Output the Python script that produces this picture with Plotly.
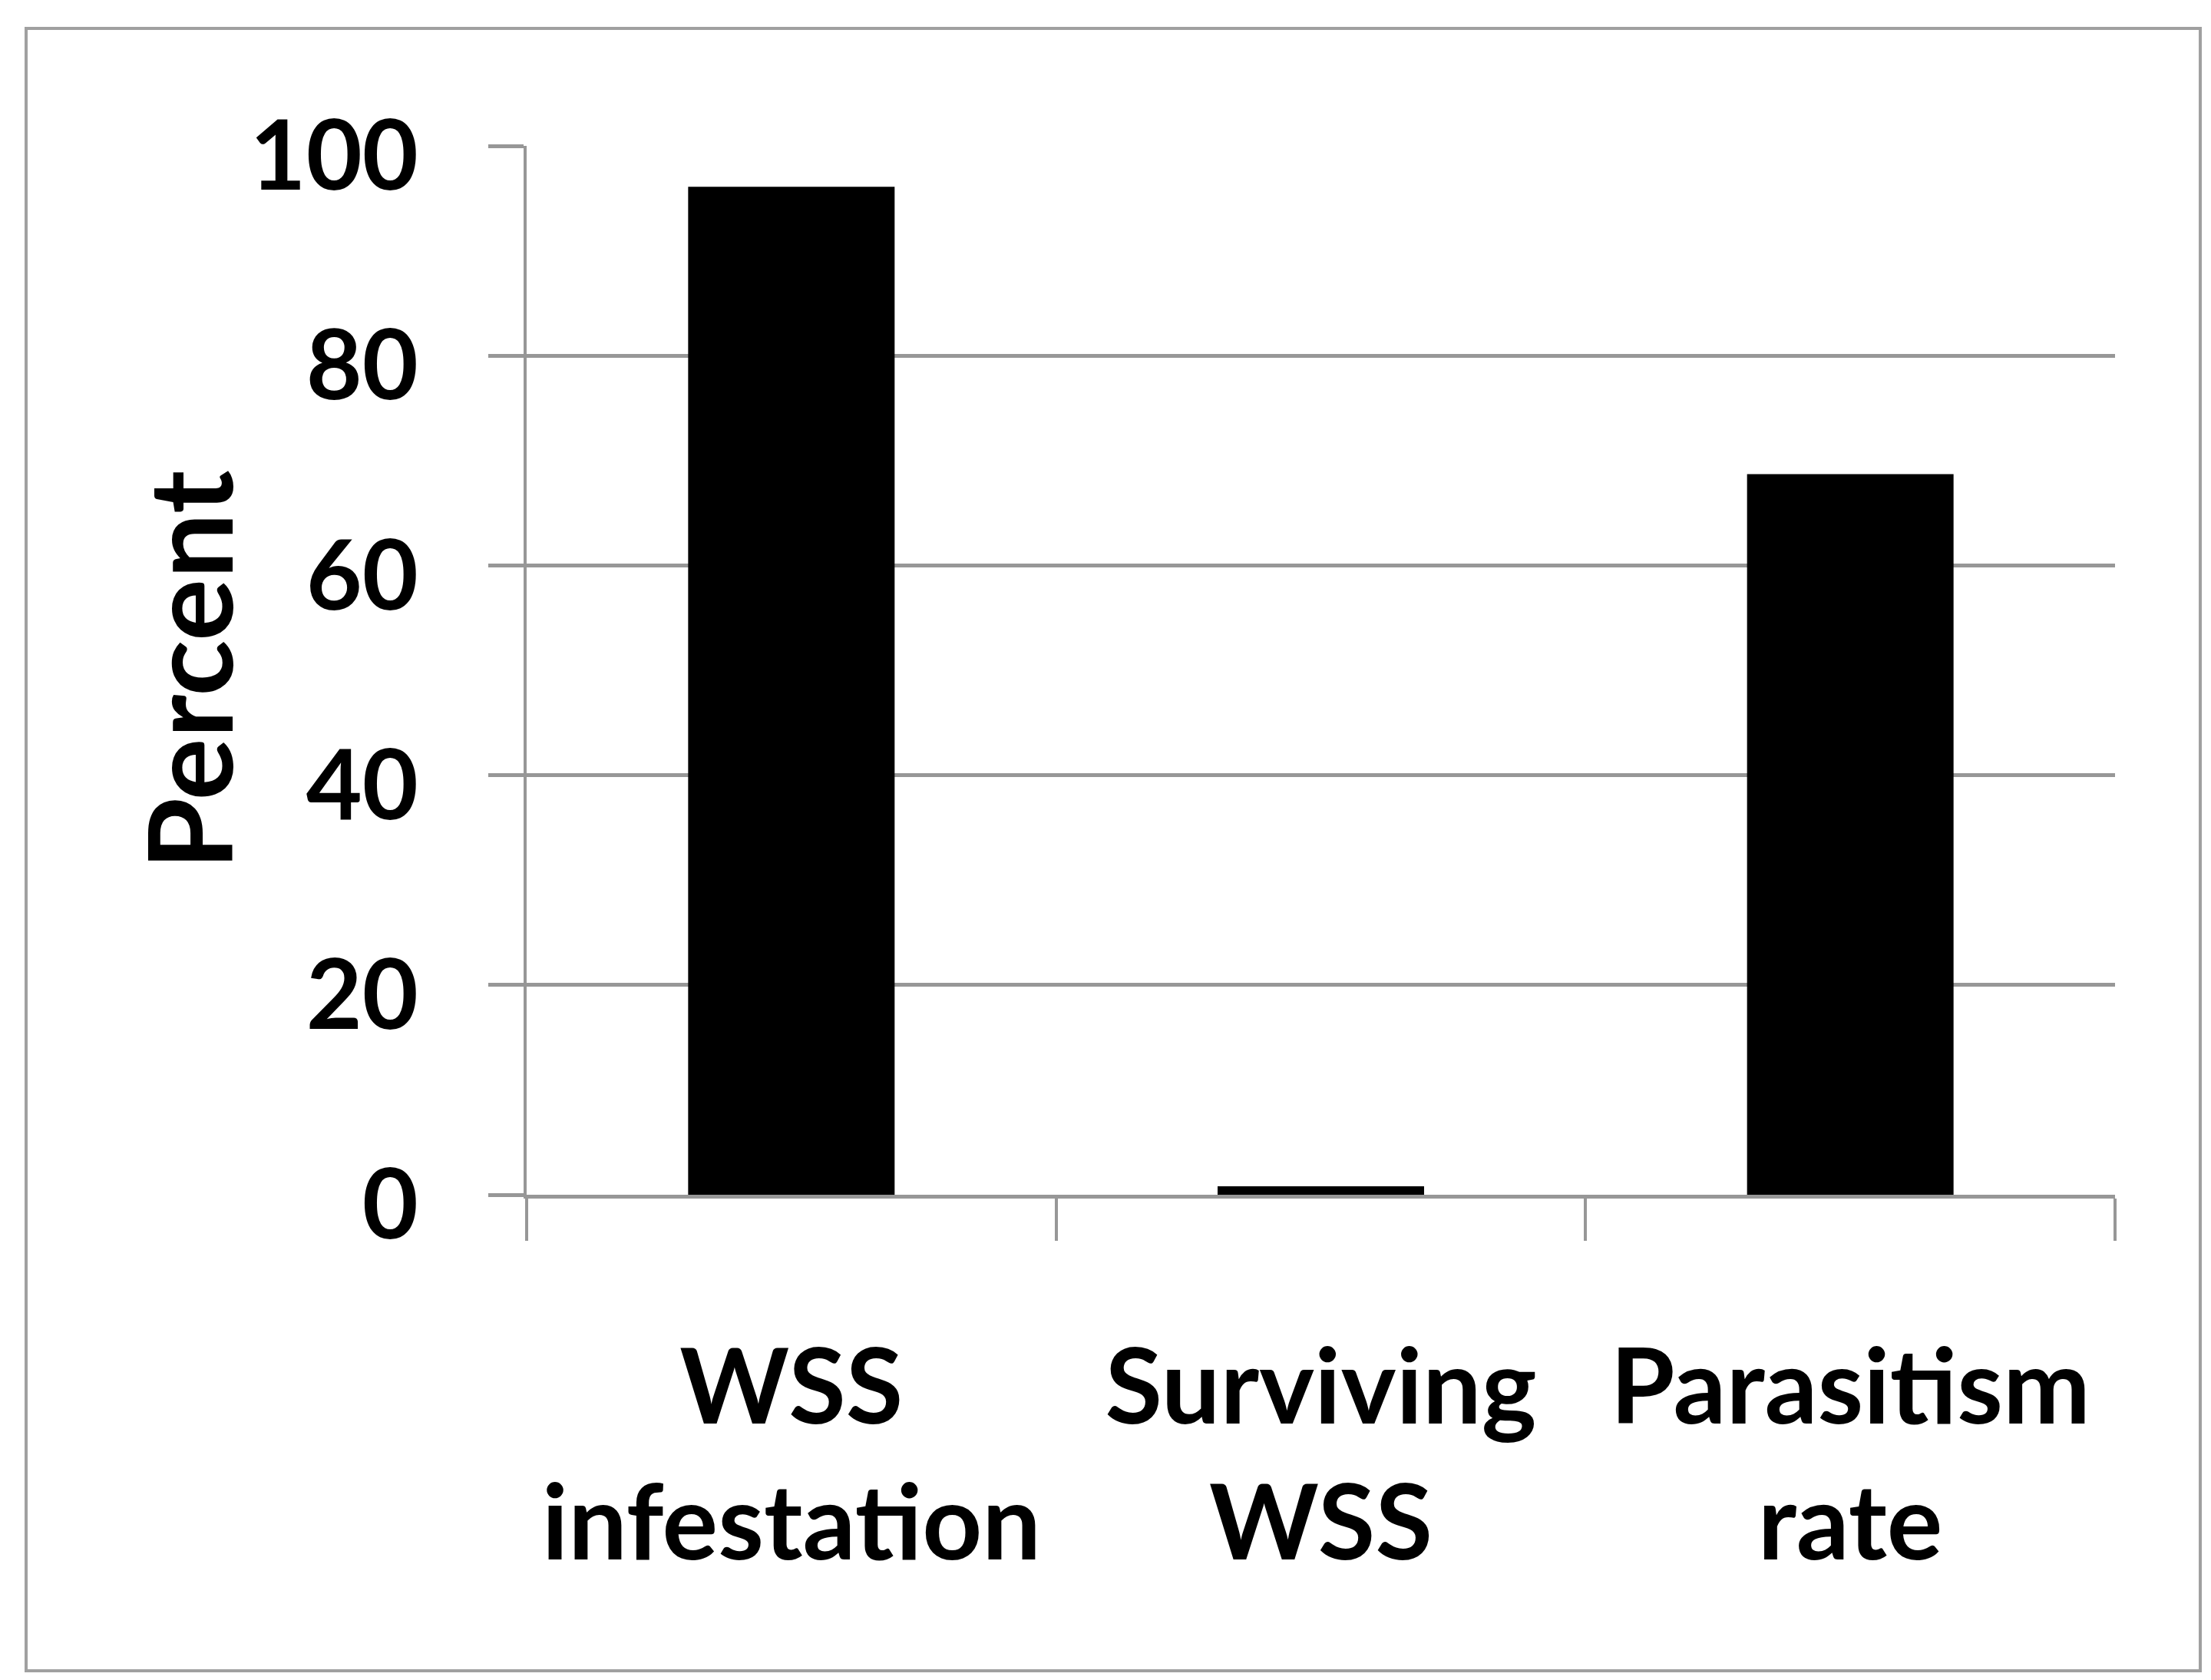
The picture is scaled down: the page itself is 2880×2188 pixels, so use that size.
import plotly.graph_objects as go

categories = ["WSS<br>infestation", "Surviving<br>WSS", "Parasitism<br>rate"]
values = [96.1, 0.8, 68.7]
y_ticks = [0, 20, 40, 60, 80, 100]
y_title = "Percent"

W, H = 2880, 2188
L, R, T, B = 678, 133, 182, 640
pw, ph = W - L - R, H - T - B

grid = "#979797"
font_family = "Lato, 'Open Sans', sans-serif"

fig = go.Figure(go.Bar(
    x=categories, y=values,
    marker=dict(color="black", line=dict(width=0)),
    width=0.39,
))

fig.update_layout(
    width=W, height=H,
    margin=dict(l=L, r=R, t=T, b=B),
    paper_bgcolor="white", plot_bgcolor="white",
    showlegend=False,
    font=dict(family=font_family, color="black"),
)

fig.update_xaxes(
    range=[-0.5, 2.5],
    tickson="boundaries",
    ticks="outside", ticklen=55, tickwidth=4, tickcolor=grid,
    showline=True, linecolor=grid, linewidth=5,
    showgrid=False,
    tickfont=dict(size=136, family=font_family, weight="bold"),
    ticklabelstandoff=130,
)

fig.update_yaxes(
    range=[0, 100],
    tickvals=y_ticks,
    ticks="outside", ticklen=46, tickwidth=5, tickcolor=grid,
    showline=True, linecolor=grid, linewidth=4,
    showgrid=True, gridcolor=grid, gridwidth=5,
    zeroline=False,
    tickfont=dict(size=126, family=font_family, weight="bold"),
    ticklabelstandoff=66,
    ticklabelshift=13,
)

# y-axis title placed beside the tick labels
fig.add_annotation(
    text=y_title, textangle=-90,
    xref="paper", yref="paper",
    x=(236 - L) / pw, y=0.5,
    xanchor="center", yanchor="middle",
    showarrow=False,
    font=dict(size=152, family=font_family, weight="bold", color="black"),
)

# outer chart border
fig.add_shape(
    type="rect", xref="paper", yref="paper",
    x0=(26 - L) / pw, x1=(2858 - L) / pw,
    y0=(H - B - 2168) / ph, y1=(H - B - 29) / ph,
    line=dict(color="#a0a0a0", width=4), fillcolor="rgba(0,0,0,0)",
    layer="below",
)

fig.write_html("out.html")
